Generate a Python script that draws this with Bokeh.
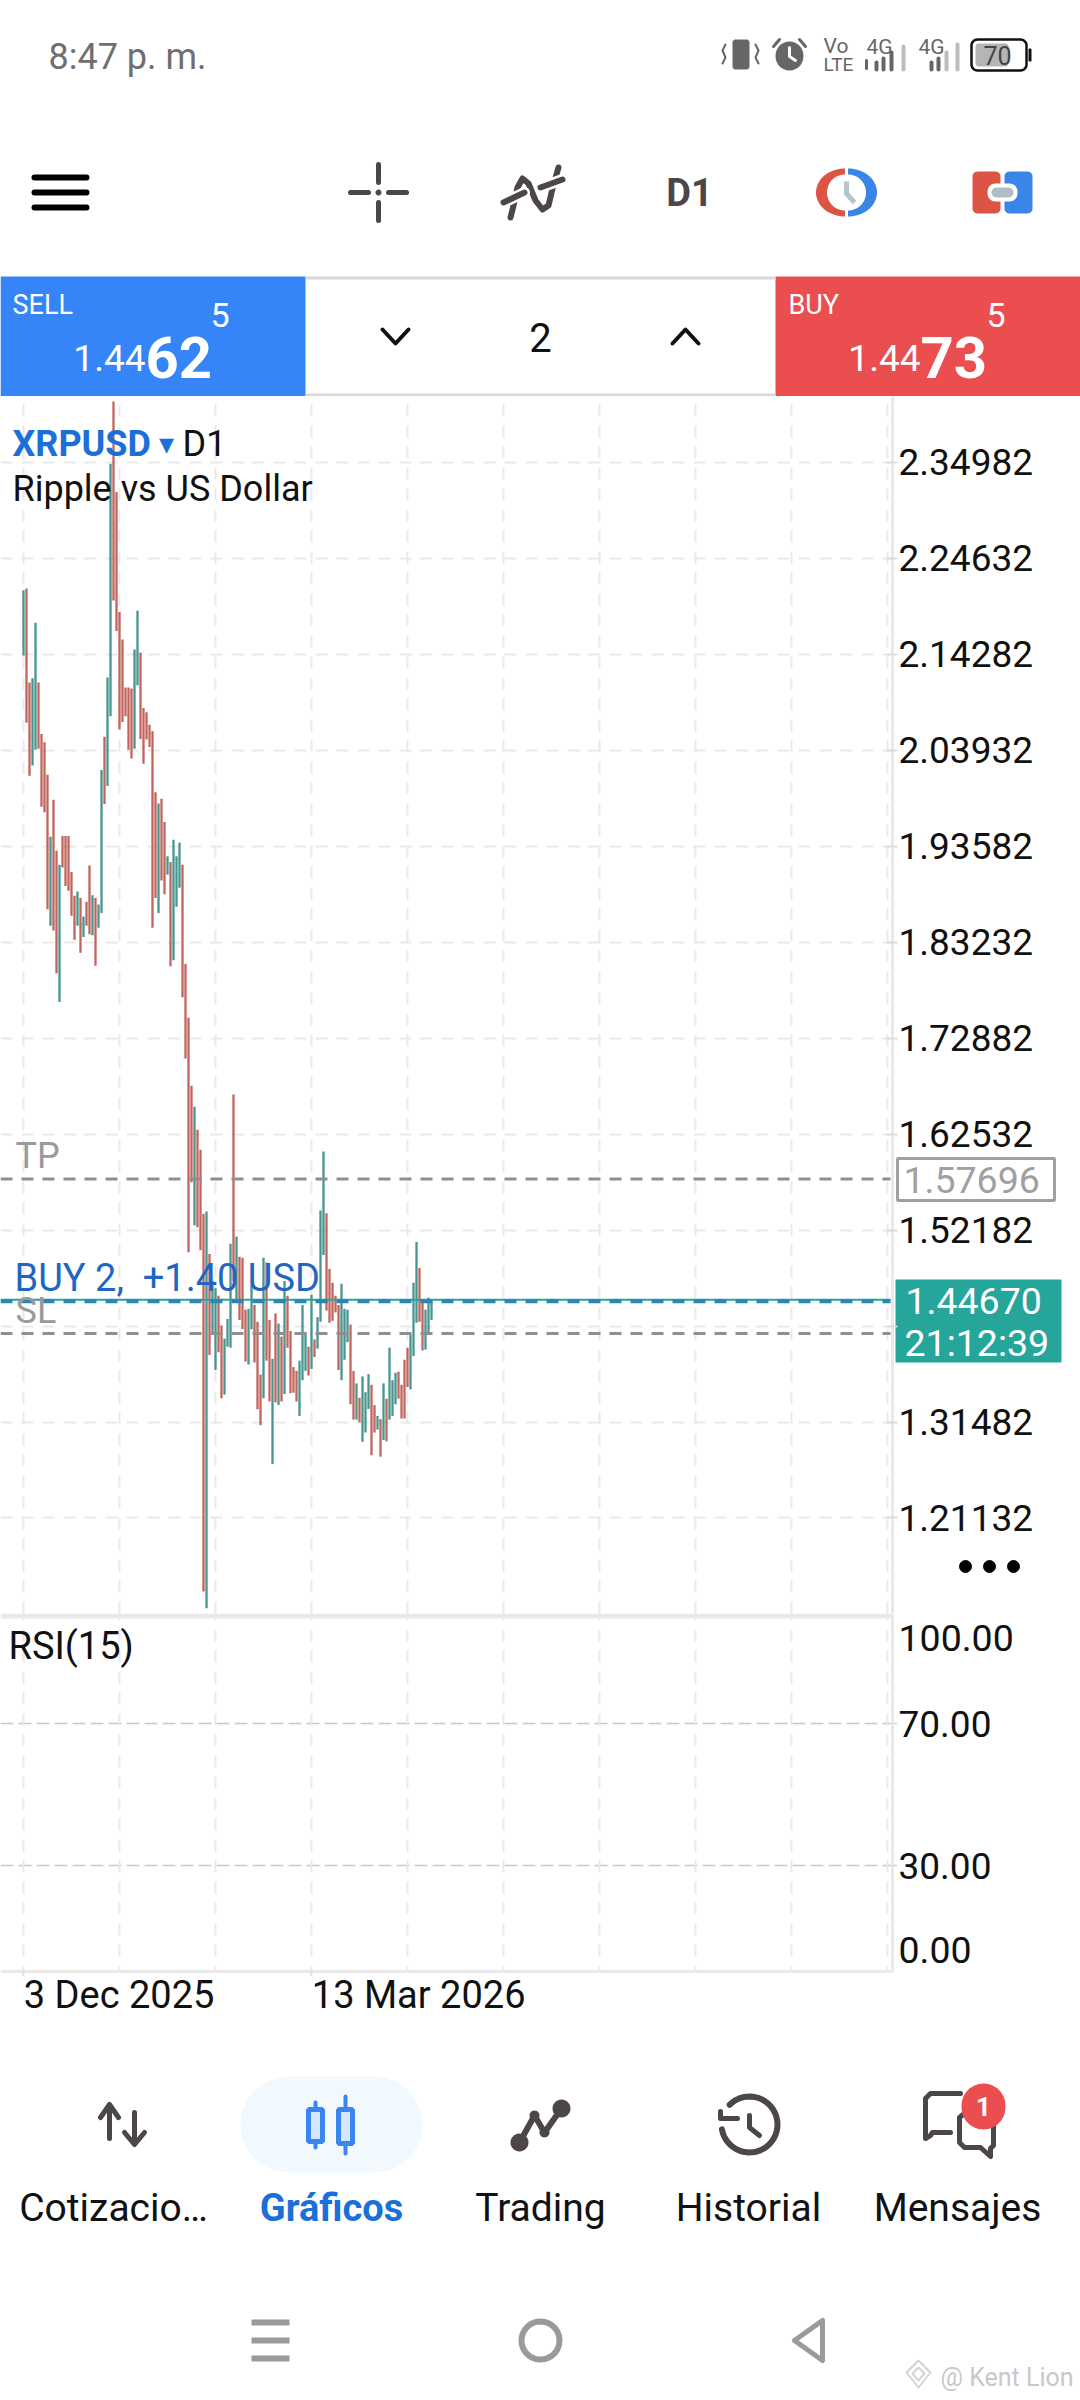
import numpy as np
from bokeh.embed import file_html
from bokeh.layouts import column
from bokeh.models import FixedTicker, Grid, Label, LinearAxis, NumeralTickFormatter, Range1d
from bokeh.plotting import figure
from bokeh.resources import INLINE

# ---------- data ----------
highs = [
    2.212, 2.214, 2.1125, 2.117, 2.177, 2.1125, 2.057, 2.048, 2.013, 1.946,
    1.986, 1.931, 1.916, 1.947, 1.947, 1.947, 1.908, 1.8825, 1.887, 1.880,
    1.860, 1.876, 1.915, 1.883, 1.880, 1.873, 2.018, 2.054, 2.118, 2.3485,
    2.4155, 2.318, 2.1885, 2.159, 2.107, 2.107, 2.106, 2.148, 2.190, 2.145,
    2.085, 2.0805, 2.067, 2.060, 1.994, 1.982, 1.987, 1.962, 1.925, 1.919,
    1.943, 1.925, 1.940, 1.916, 1.809, 1.751, 1.6775, 1.655, 1.630, 1.6085,
    1.5395, 1.542, 1.496, 1.467, 1.459, 1.451, 1.419, 1.405, 1.426, 1.507,
    1.668, 1.515, 1.493, 1.492, 1.436, 1.437, 1.463, 1.441, 1.423, 1.366,
    1.492, 1.487, 1.425, 1.383, 1.432, 1.421, 1.407, 1.467, 1.451, 1.413,
    1.374, 1.370, 1.381, 1.441, 1.411, 1.396, 1.452, 1.404, 1.428, 1.543,
    1.6066, 1.540, 1.480, 1.465, 1.451, 1.441, 1.464, 1.437, 1.436, 1.420,
    1.370, 1.3565, 1.341, 1.364, 1.347, 1.3665, 1.355, 1.333, 1.3214, 1.318,
    1.3565, 1.340, 1.395, 1.360, 1.368, 1.369, 1.355, 1.382, 1.395, 1.409,
    1.465, 1.509, 1.481, 1.446, 1.436, 1.449, 1.445,
]
lows = [
    2.1415, 2.069, 2.012, 2.023, 2.040, 2.041, 1.9785, 1.9725, 1.868, 1.850,
    1.845, 1.799, 1.768, 1.913, 1.893, 1.888, 1.861, 1.835, 1.850, 1.821,
    1.838, 1.850, 1.841, 1.840, 1.807, 1.848, 1.864, 1.9815, 2.001, 2.076,
    2.201, 2.168, 2.062, 2.070, 2.076, 2.040, 2.0305, 2.041, 2.1095, 2.0515,
    2.025, 2.051, 2.043, 1.848, 1.880, 1.864, 1.899, 1.884, 1.9055, 1.8065,
    1.813, 1.8705, 1.891, 1.773, 1.707, 1.498, 1.5735, 1.527, 1.525, 1.500,
    1.132, 1.114, 1.387, 1.411, 1.371, 1.390, 1.3405, 1.3445, 1.396, 1.395,
    1.467, 1.445, 1.425, 1.415, 1.380, 1.377, 1.415, 1.379, 1.3286, 1.3115,
    1.3405, 1.381, 1.337, 1.2696, 1.336, 1.3334, 1.337, 1.345, 1.395, 1.346,
    1.3465, 1.337, 1.3214, 1.360, 1.370, 1.365, 1.372, 1.385, 1.394, 1.423,
    1.495, 1.435, 1.422, 1.424, 1.433, 1.371, 1.360, 1.382, 1.401, 1.334,
    1.3174, 1.3174, 1.3146, 1.2935, 1.3035, 1.329, 1.279, 1.3035, 1.3067, 1.2775,
    1.2955, 1.294, 1.3174, 1.3214, 1.334, 1.340, 1.3186, 1.3186, 1.3525, 1.350,
    1.386, 1.422, 1.423, 1.392, 1.393, 1.409, 1.425,
]
rising = [
    1, 0, 0, 1, 1, 0, 0, 0, 0, 1,
    0, 0, 1, 0, 0, 0, 0, 0, 1, 0,
    1, 0, 0, 1, 0, 1, 1, 0, 1, 1,
    0, 0, 0, 0, 0, 0, 0, 1, 1, 0,
    0, 0, 0, 0, 0, 1, 0, 0, 1, 0,
    1, 1, 1, 0, 0, 0, 0, 1, 0, 0,
    0, 1, 0, 1, 1, 0, 0, 1, 1, 1,
    0, 1, 0, 0, 0, 1, 1, 0, 0, 0,
    1, 0, 0, 1, 0, 1, 0, 1, 0, 0,
    0, 0, 1, 1, 1, 0, 1, 0, 1, 1,
    1, 0, 0, 0, 0, 0, 1, 1, 1, 0,
    0, 1, 0, 1, 1, 1, 0, 0, 1, 0,
    1, 0, 1, 1, 1, 0, 0, 0, 0, 1,
    1, 1, 0, 0, 1, 1, 1,
]
price_ticks = [2.34982, 2.24632, 2.14282, 2.03932, 1.93582, 1.83232, 1.72882,
               1.62532, 1.52182, 1.41832, 1.31482, 1.21132]
rsi_ticks = [70, 30]
date_ticks = {0: "3 Dec 2025", 96: "13 Mar 2026"}
grid_bars = [0, 32, 64, 96, 128, 160, 192, 224, 256, 288]
take_profit = 1.57696
stop_loss = 1.4104
entry_price = 1.4450
last_price = 1.44670

# ---------- shared styling ----------
FONT = "Roboto"
UP = "#46958f"
DOWN = "#c2635c"
GRID = "#e9e9e9"
ICON = "#4c4646"
W = 1080
AXIS_X = 892
BAR0, BAR_STEP = 23.0, 3.0


def px(X):
    return (X - BAR0) / BAR_STEP


X0, X1 = px(0), px(W)


def text(p, x, y, s, size, color="#111111", bold=False, align="left", baseline="middle", font=FONT):
    p.add_layout(Label(x=x, y=y, text=s, text_font=font, text_font_size=f"{size}px",
                       text_color=color, text_font_style="bold" if bold else "normal",
                       text_align=align, text_baseline=baseline))


def rr(x0, y0, x1, y1, r):
    t = np.linspace(0, np.pi / 2, 8)
    xs = np.concatenate([x1 - r + r * np.sin(t), x1 - r + r * np.cos(t), x0 + r - r * np.sin(t), x0 + r - r * np.cos(t)])
    ys = np.concatenate([y0 + r - r * np.cos(t), y1 - r + r * np.sin(t), y1 - r + r * np.cos(t), y0 + r - r * np.sin(t)])
    return xs, ys


def rbox(p, x0, y0, x1, y1, r, fill, line=None, lw=0):
    xs, ys = rr(x0, y0, x1, y1, r)
    p.patch(xs, ys, fill_color=fill, line_color=line, line_width=lw, fill_alpha=1 if fill else 0)


def stroke(p, xs, ys, w, color=ICON):
    p.line(xs, ys, line_width=w, line_color=color, line_cap="round", line_join="round")


def arc(cx, cy, rx, ry, a0, a1, n=40):
    t = np.radians(np.linspace(a0, a1, n))
    return cx + rx * np.cos(t), cy + ry * np.sin(t)


def blank(height, y0, y1):
    p = figure(width=W, height=height, x_range=Range1d(0, W), y_range=Range1d(y1, y0),
               output_backend="svg", toolbar_location=None, min_border=0,
               x_axis_location=None, y_axis_location=None, outline_line_color=None)
    p.grid.visible = False
    return p


def style_axis(ax):
    ax.major_label_text_font = FONT
    ax.major_label_text_font_size = "37px"
    ax.major_label_text_color = "#111111"
    ax.major_label_standoff = 1
    ax.axis_line_color = GRID
    ax.axis_line_width = 3
    ax.major_tick_line_color = "#dddddd"
    ax.major_tick_line_width = 2
    ax.major_tick_out = 5
    ax.minor_tick_line_color = None


# ---------- header ----------
head = blank(396, 0, 396)
text(head, 48, 56, "8:47 p. m.", 36, "#6f6f6f")
# vibrate
rbox(head, 732, 39, 749, 69, 3, "#666666")
stroke(head, [725, 722, 725, 722], [44, 50, 57, 63], 2, "#666666")
stroke(head, [755, 758, 755, 758], [44, 50, 57, 63], 2, "#666666")
# alarm
rbox(head, 775, 41, 803, 70, 14, "#666666")
stroke(head, [789, 789, 795], [47, 56, 60], 3, "#ffffff")
stroke(head, [773, 779], [46, 39], 3, "#666666")
stroke(head, [805, 799], [46, 39], 3, "#666666")
text(head, 823, 45, "Vo", 21, "#666666")
text(head, 823, 64, "LTE", 19, "#666666")
text(head, 866, 46, "4G", 21, "#666666")
text(head, 918, 46, "4G", 21, "#666666")
for bx, by, col in [(876, 62, "#666666"), (883, 58, "#666666"), (891, 52, "#666666"), (903, 46, "#bdbdbd"),
                    (931, 62, "#666666"), (938, 58, "#666666"), (946, 52, "#bdbdbd"), (957, 44, "#bdbdbd")]:
    stroke(head, [bx, bx], [by, 69], 4, col)
stroke(head, [866, 866], [60, 68], 3, "#666666")
rbox(head, 971, 39, 1026, 70, 6, None, "#111111", 2.5)
rbox(head, 975, 43, 1008, 66, 3, "#b5b5b5")
rbox(head, 1028, 48, 1031, 61, 1, "#111111")
text(head, 997, 55, "70", 25, "#444444", align="center")

# toolbar
for hy in (177, 192, 207):
    stroke(head, [34, 86], [hy, hy], 6, "#000000")
stroke(head, [378, 378], [164, 182], 5)
stroke(head, [378, 378], [202, 220], 5)
stroke(head, [350, 368], [192, 192], 5)
stroke(head, [388, 406], [192, 192], 5)
rbox(head, 375, 189, 381, 195, 3, ICON)
squig_x = [510, 513, 517, 522, 528, 535, 542, 548, 552, 558]
squig_y = [217, 205, 187, 178, 183, 200, 209, 205, 188, 167]
stroke(head, squig_x, squig_y, 6)
stroke(head, [503, 524], [202, 192], 11, "#ffffff")
stroke(head, [540, 562], [187, 179], 11, "#ffffff")
stroke(head, [503, 524], [202, 192], 6)
stroke(head, [540, 562], [187, 179], 6)
text(head, 689, 192, "D1", 38, ICON, bold=True, align="center")
# clock icon
lx, ly = arc(844.5, 192, 29, 24, 90, 270)
ix, iy = arc(844.5, 192, 18, 18, 270, 90)
head.patch(np.r_[lx, ix], np.r_[ly, iy], fill_color="#dc5444", line_color=None)
lx, ly = arc(847.5, 192, 29, 24, -90, 90)
ix, iy = arc(847.5, 192, 18, 18, 90, -90)
head.patch(np.r_[lx, ix], np.r_[ly, iy], fill_color="#3a86e8", line_color=None)
head.line([846, 846, 854], [181, 193, 202], line_width=5, line_color="#b8c4cc", line_join="miter")
# one click icon
rbox(head, 972, 171, 1000, 213, 5, "#dc5444")
rbox(head, 1004, 171, 1032, 213, 5, "#3a86e8")
rbox(head, 987, 183, 1017, 201, 8, "#ffffff")
rbox(head, 991, 187, 1013, 197, 5, "#b0bcc6")

# sell / buy strip
head.quad(left=0, right=305, top=276, bottom=396, fill_color="#3584f8", line_color=None)
head.quad(left=775, right=1080, top=276, bottom=396, fill_color="#ea4e4e", line_color=None)
head.quad(left=305, right=775, top=276, bottom=279, fill_color="#d8d8d8", line_color=None)
head.quad(left=305, right=775, top=393, bottom=396, fill_color="#d8d8d8", line_color=None)
text(head, 12, 304, "SELL", 27, "#ffffff")
text(head, 145, 357, "1.44", 37, "#ffffff", align="right", baseline="alphabetic")
text(head, 145, 357, "62", 58, "#ffffff", bold=True, baseline="alphabetic")
text(head, 210, 314, "5", 34, "#ffffff")
text(head, 788, 304, "BUY", 27, "#ffffff")
text(head, 920, 357, "1.44", 37, "#ffffff", align="right", baseline="alphabetic")
text(head, 920, 357, "73", 58, "#ffffff", bold=True, baseline="alphabetic")
text(head, 986, 314, "5", 34, "#ffffff")
stroke(head, [382, 395, 408], [329, 343, 329], 4, "#111111")
stroke(head, [672, 685, 698], [343, 329, 343], 4, "#111111")
text(head, 540, 337, "2", 40, "#111111", align="center")

# ---------- price panel ----------
P_TOP, P_BOT = 2.4210, 1.1083
main = figure(width=W, height=1217, x_range=Range1d(X0, X1), y_range=Range1d(P_BOT, P_TOP),
              output_backend="svg", toolbar_location=None, x_axis_location=None, y_axis_location=None,
              min_border=0, outline_line_color=None)


def py(Y):
    return P_TOP - (Y - 396) / 1217 * (P_TOP - P_BOT)


main.grid.visible = False
main.add_layout(Grid(dimension=1, ticker=FixedTicker(ticks=price_ticks), grid_line_color=GRID,
                     grid_line_width=2, grid_line_dash="12 9"))
main.add_layout(Grid(dimension=0, ticker=FixedTicker(ticks=grid_bars), grid_line_color=GRID,
                     grid_line_width=2, grid_line_dash="12 9"))

bars = list(range(len(highs)))
main.segment(x0=bars, y0=lows, x1=bars, y1=highs, line_width=2.3,
             line_color=[UP if r else DOWN for r in rising])

# white gutter that holds the price scale
main.quad(left=px(AXIS_X), right=X1, top=P_TOP, bottom=P_BOT, fill_color="#ffffff", line_color=None)
price_axis = LinearAxis(fixed_location=px(AXIS_X), ticker=FixedTicker(ticks=price_ticks),
                        formatter=NumeralTickFormatter(format="0.00000"),
                        major_label_overrides={1.41832: ""})
style_axis(price_axis)
price_axis.major_tick_in = 6
main.add_layout(price_axis, "right")

for level, col, lw in ((take_profit, "#8f8f8f", 3), (stop_loss, "#8f8f8f", 3)):
    main.segment(x0=[X0], y0=[level], x1=[px(AXIS_X - 2)], y1=[level], line_color=col, line_width=lw, line_dash="12 9")
main.segment(x0=[X0], y0=[last_price], x1=[px(AXIS_X - 2)], y1=[last_price], line_color="#26a69a", line_width=2)
main.segment(x0=[X0], y0=[entry_price], x1=[px(AXIS_X - 2)], y1=[entry_price], line_color="#2a86b4", line_width=4,
             line_dash="12 9")

text(main, px(12), py(443), "XRPUSD", 36, "#1a6fd8", bold=True)
text(main, px(166), py(443), "▾", 30, "#1a6fd8", align="center", font="DejaVu Sans")
text(main, px(182), py(443), "D1", 36, "#111111")
text(main, px(12), py(488), "Ripple vs US Dollar", 36, "#111111")
text(main, px(15), py(1155), "TP", 36, "#9a9a9a")
text(main, px(15), py(1310), "SL", 36, "#9a9a9a")
text(main, px(14), py(1277), "BUY 2,\u00a0 +1.40 USD", 38, "#1f66c2")

# price tags on the axis
main.quad(left=px(897), right=px(1054), top=py(1158), bottom=py(1200), fill_color="#ffffff",
          line_color="#a0a0a0", line_width=3)
text(main, px(903), py(1179), f"{take_profit:.5f}", 37.5, "#a0a0a0")
main.quad(left=px(895), right=px(1061), top=py(1279), bottom=py(1362), fill_color="#26a69a", line_color=None)
text(main, px(905), py(1300), f"{last_price:.5f}", 37.5, "#ffffff")
text(main, px(904), py(1342), "21:12:39", 37.5, "#ffffff")
main.scatter(x=[px(965), px(989), px(1013)], y=[py(1566)] * 3, size=12, color="#000000")


# ---------- RSI panel ----------
def ry(Y):
    return 70 - (Y - 1723) / 3.55


rsi = figure(width=W, height=427, x_range=Range1d(X0, X1), y_range=Range1d(ry(2040), ry(1613)),
             output_backend="svg", toolbar_location=None, x_axis_location=None, y_axis_location=None,
             min_border=0, outline_line_color=None)
rsi.grid.visible = False
rsi.add_layout(Grid(dimension=1, ticker=FixedTicker(ticks=rsi_ticks), grid_line_color="#c8c8c8",
                    grid_line_width=1.5, grid_line_dash="13 5"))
rsi.add_layout(Grid(dimension=0, ticker=FixedTicker(ticks=grid_bars), grid_line_color=GRID,
                    grid_line_width=2, grid_line_dash="12 9"))
rsi.quad(left=px(AXIS_X), right=X1, top=ry(1613), bottom=ry(2040), fill_color="#ffffff", line_color=None)
rsi.quad(left=X0, right=X1, top=ry(1971), bottom=ry(2040), fill_color="#ffffff", line_color=None)
rsi.segment(x0=[X0], y0=[ry(1615.5)], x1=[px(AXIS_X)], y1=[ry(1615.5)], line_color=GRID, line_width=5)

rsi_axis = LinearAxis(fixed_location=px(AXIS_X), ticker=FixedTicker(ticks=rsi_ticks),
                      formatter=NumeralTickFormatter(format="0.00"), bounds=(ry(1971), ry(1613)))
style_axis(rsi_axis)
rsi_axis.major_tick_in = 0
rsi.add_layout(rsi_axis, "right")

date_axis = LinearAxis(fixed_location=ry(1971), ticker=FixedTicker(ticks=list(date_ticks)),
                       major_label_overrides={k: "" for k in date_ticks}, bounds=(X0, px(AXIS_X)))
style_axis(date_axis)
date_axis.major_tick_in = 0
date_axis.major_label_text_font_size = "1px"
rsi.add_layout(date_axis, "below")
for bar, label in date_ticks.items():
    text(rsi, bar + 0.1, ry(1994), label, 38, "#111111")

text(rsi, px(8), ry(1645), "RSI(15)", 38, "#111111")
text(rsi, px(898), ry(1637), "100.00", 37.5, "#111111")
text(rsi, px(898), ry(1949), "0.00", 37.5, "#111111")

# ---------- footer ----------
foot = blank(360, 2040, 2400)
rbox(foot, 240, 2076, 422, 2172, 48, "#f1f8fe")
for tx, s in ((113, "Cotizacio…"), (540, "Trading"), (748, "Historial"), (957, "Mensajes")):
    text(foot, tx, 2207, s, 39, "#111111", align="center")
text(foot, 331, 2207, "Gráficos", 38, "#1a6fd8", bold=True, align="center")
# arrows
stroke(foot, [109, 109], [2106, 2138], 5)
stroke(foot, [100, 109, 118], [2117, 2104, 2117], 5)
stroke(foot, [134, 134], [2112, 2143], 5)
stroke(foot, [124, 134, 144], [2132, 2144, 2132], 5)
# candles
CANDLE = "#3a86f0"
stroke(foot, [315, 315], [2102, 2147], 4, CANDLE)
stroke(foot, [345, 345], [2096, 2153], 4, CANDLE)
for cx, top, bot in ((315, 2109, 2141), (345, 2109, 2143)):
    foot.quad(left=cx - 7, right=cx + 7, top=top, bottom=bot, fill_color="#d6e6fb", line_color=CANDLE, line_width=5)
# trading
stroke(foot, [519, 534, 544, 561], [2142, 2115, 2132, 2108], 6)
rbox(foot, 510, 2133, 528, 2151, 9, ICON)
rbox(foot, 552, 2099, 570, 2117, 9, ICON)
rbox(foot, 529, 2110, 539, 2120, 5, ICON)
rbox(foot, 539, 2127, 549, 2137, 5, ICON)
# history
ax_, ay_ = arc(749, 2124, 28, 28, -135, 170)
stroke(foot, ax_, ay_, 6)
stroke(foot, [720, 720, 737], [2111, 2118, 2118], 5)
stroke(foot, [749, 749, 759], [2115, 2127, 2135], 5)
# messages
stroke(foot, [960, 930, 925, 925, 930, 932, 940, 950], [2093, 2093, 2098, 2138, 2135, 2132, 2132, 2132], 5)
stroke(foot, [965, 959, 959, 964, 980, 990, 990, 993, 993], [2112, 2117, 2142, 2147, 2147, 2156, 2148, 2145, 2120], 5)
rbox(foot, 961, 2083, 1005, 2129, 22, "#ea4e4e")
text(foot, 983, 2106, "1", 26, "#ffffff", bold=True, align="center")
# navigation bar
for hy, hh in ((2319, 2325), (2337, 2343), (2355, 2361)):
    foot.quad(left=251, right=289, top=hy, bottom=hh, fill_color="#9a9a9a", line_color=None)
cx_, cy_ = arc(540, 2340, 19, 19, 0, 360)
stroke(foot, cx_, cy_, 6, "#9a9a9a")
stroke(foot, [822, 794, 822, 822], [2320, 2340, 2360, 2320], 5, "#9a9a9a")
# watermark
stroke(foot, [918, 906, 918, 930, 918], [2360, 2372, 2387, 2372, 2360], 2, "#d4d4d4")
stroke(foot, [918, 912, 918, 924, 918], [2367, 2373, 2380, 2373, 2367], 2, "#d4d4d4")
text(foot, 940, 2377, "@ Kent Lion", 25, "#c8c8c8")

page = column(head, main, rsi, foot, spacing=0)
open("out.html", "w").write(file_html(page, INLINE))
